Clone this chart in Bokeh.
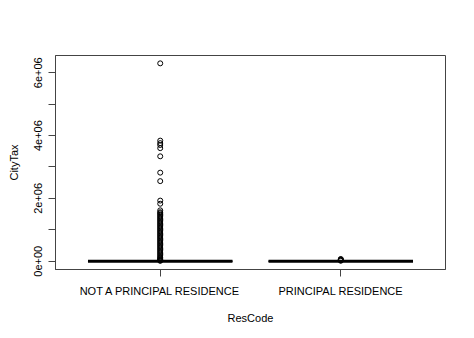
from bokeh.plotting import figure
from bokeh.models import Range1d, FixedTicker
from bokeh.embed import file_html
from bokeh.resources import INLINE

categories = ["NOT A PRINCIPAL RESIDENCE", "PRINCIPAL RESIDENCE"]
cat_pos = [1, 2]
q1 = [0, 0]
median = [0, 0]
q3 = [2000, 1000]
whisk_lo = [0, 0]
whisk_hi = [5000, 2500]

outliers_1 = [6300000, 3840000, 3760000, 3700000, 3600000, 3340000, 2820000, 2550000,
              1930000, 1830000, 1620000, 1560000, 1530000, 1490000, 1450000, 1410000,
              1370000, 1330000, 1290000, 1250000, 1210000, 1170000, 1130000, 1090000,
              1050000, 1010000, 970000, 930000, 890000, 850000, 810000, 770000,
              730000, 690000, 650000, 610000, 570000, 530000, 490000, 450000,
              410000, 370000, 330000, 290000, 250000, 210000, 170000, 130000,
              100000, 70000, 45000, 25000, 12000]
outliers_2 = [70000, 55000, 40000, 28000, 15000]

yticks = [0, 1000000, 2000000, 3000000, 4000000, 5000000, 6000000]
ytick_labels = {0: "0e+00", 1000000: "", 2000000: "2e+06", 3000000: "",
                4000000: "4e+06", 5000000: "", 6000000: "6e+06"}

FONT = "Liberation Sans"

p = figure(width=474, height=338, output_backend="svg", toolbar_location=None,
           x_range=Range1d(0.42, 2.58), y_range=Range1d(-264000, 6550000),
           min_border_left=55, min_border_right=29, min_border_top=55, min_border_bottom=69)

p.background_fill_color = "white"
p.border_fill_color = "white"
p.outline_line_color = "#444444"
p.outline_line_width = 1
p.xgrid.visible = False
p.ygrid.visible = False

# boxes
p.quad(left=[c - 0.4 for c in cat_pos], right=[c + 0.4 for c in cat_pos],
       bottom=q1, top=q3, fill_color=None, line_color="black", line_width=1)
# whiskers
p.segment(x0=cat_pos, x1=cat_pos, y0=q3, y1=whisk_hi, line_color="black", line_width=1)
p.segment(x0=[c - 0.2 for c in cat_pos], x1=[c + 0.2 for c in cat_pos],
          y0=whisk_hi, y1=whisk_hi, line_color="black", line_width=1)
# medians
p.segment(x0=[c - 0.4 for c in cat_pos], x1=[c + 0.4 for c in cat_pos],
          y0=median, y1=median, line_color="black", line_width=3)
# outliers
p.scatter(x=[cat_pos[0]] * len(outliers_1), y=outliers_1, marker="circle", size=5,
          fill_color=None, line_color="black", line_width=1)
p.scatter(x=[cat_pos[1]] * len(outliers_2), y=outliers_2, marker="circle", size=5,
          fill_color=None, line_color="black", line_width=1)

# x axis
xa = p.xaxis[0]
xa.ticker = FixedTicker(ticks=cat_pos)
xa.major_label_overrides = {1: categories[0], 2: categories[1]}
xa.axis_label = "ResCode"
xa.minor_tick_line_color = None
xa.major_tick_in = 0
xa.major_tick_out = 7
xa.major_label_standoff = 8
xa.axis_label_standoff = 12

# y axis
ya = p.yaxis[0]
ya.ticker = FixedTicker(ticks=yticks)
ya.major_label_overrides = ytick_labels
ya.major_label_orientation = "vertical"
ya.axis_label = "CityTax"
ya.minor_tick_line_color = None
ya.major_tick_in = 0
ya.major_tick_out = 7
ya.major_label_standoff = 6
ya.axis_label_standoff = 12

for ax in (xa, ya):
    ax.axis_line_color = "#444444"
    ax.major_tick_line_color = "#444444"
    ax.major_label_text_font = FONT
    ax.major_label_text_font_size = "11px"
    ax.major_label_text_color = "black"
    ax.axis_label_text_font = FONT
    ax.axis_label_text_font_size = "11px"
    ax.axis_label_text_font_style = "normal"
    ax.axis_label_text_color = "black"

open("out.html", "w").write(file_html(p, INLINE))
